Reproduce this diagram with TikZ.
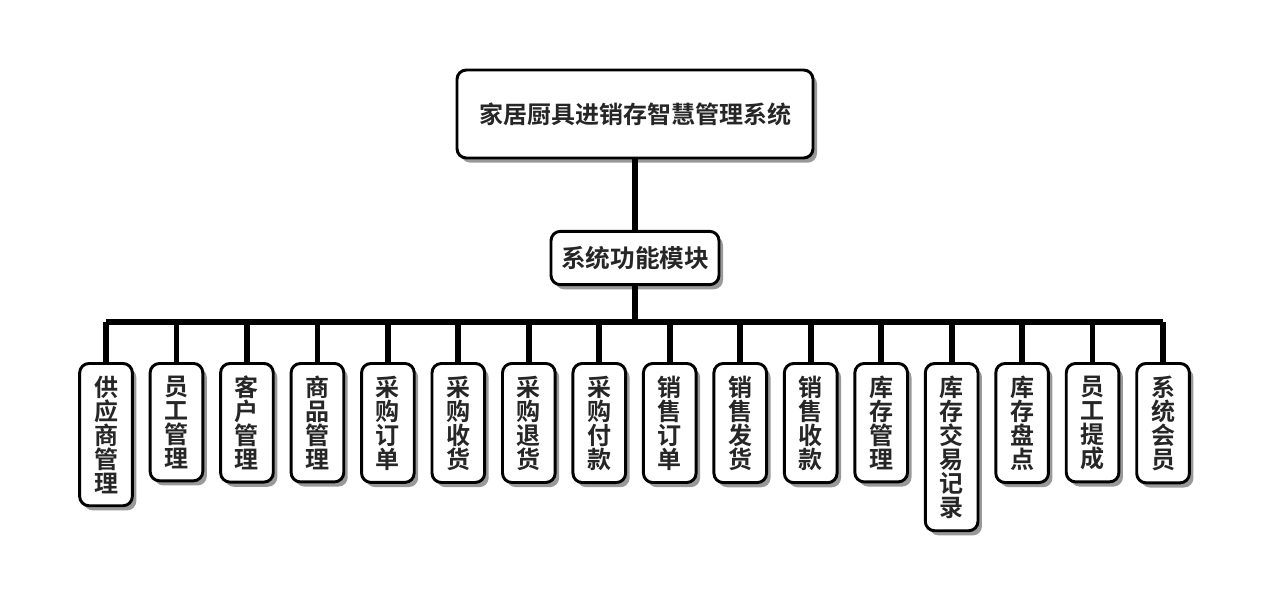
\documentclass[tikz,border=0pt]{standalone}
\usepackage{fontspec}
\setmainfont{Noto Sans CJK SC}[BoldFont={Noto Sans CJK SC Bold}]
\usetikzlibrary{positioning, shadows}
\tikzset{
  box/.style={rectangle, draw, line width=2.2pt, rounded corners=7pt, fill=white, align=center,
    font=\bfseries, text=black!85,
    drop shadow={shadow xshift=3pt, shadow yshift=-3.5pt, opacity=0.4, fill=black}},
  subbox/.style={box, minimum width=39.5pt, inner xsep=2pt, inner ysep=9.2pt, anchor=north,
    font=\fontsize{18pt}{18pt}\selectfont\bfseries},
  conn/.style={line width=4.3pt},
}
\begin{document}
\begin{tikzpicture}[x=0.75pt, y=-0.75pt]
    \useasboundingbox (0,0) rectangle (1269,607);
    \node[box, minimum width=267pt, minimum height=66pt, font=\fontsize{18pt}{18pt}\selectfont\bfseries] (sys) at (635,114) {家居厨具进销存智慧管理系统};
    \node[box, minimum width=126pt, minimum height=40pt, font=\fontsize{18.5pt}{18pt}\selectfont\bfseries] (mod) at (635,258) {系统功能模块};
    \coordinate (bus) at (635,322);
    \foreach \i/\txt in {1/{供\\应\\商\\管\\理}, 2/{员\\工\\管\\理}, 3/{客\\户\\管\\理}, 4/{商\\品\\管\\理},
        5/{采\\购\\订\\单}, 6/{采\\购\\收\\货}, 7/{采\\购\\退\\货}, 8/{采\\购\\付\\款},
        9/{销\\售\\订\\单}, 10/{销\\售\\发\\货}, 11/{销\\售\\收\\款}, 12/{库\\存\\管\\理},
        13/{库\\存\\交\\易\\记\\录}, 14/{库\\存\\盘\\点}, 15/{员\\工\\提\\成}, 16/{系\\统\\会\\员}}
      \node[subbox] (m\i) at ({106+(\i-1)*70.47},362) {\txt};
    % connectors
    \draw[conn] (sys) -- (mod);
    \draw[conn] (mod.south) -- (bus);
    \draw[conn] (m1.north |- bus) -- (m16.north |- bus);
    \foreach \i in {1,...,16}
      \draw[conn] (m\i.north |- bus) -- (m\i.north);
  \end{tikzpicture}
\end{document}
